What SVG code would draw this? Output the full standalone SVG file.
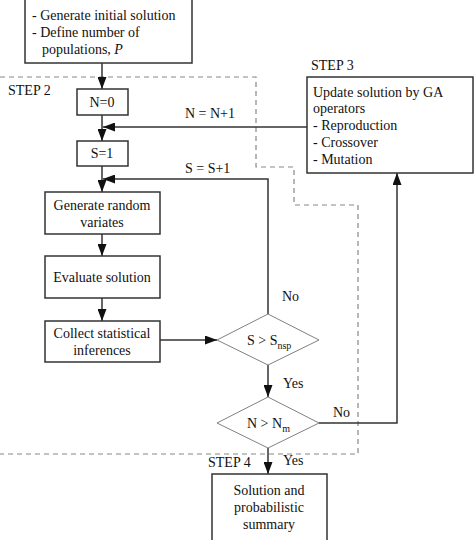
<svg xmlns="http://www.w3.org/2000/svg" width="474" height="540" viewBox="0 0 474 540">
<style>
.box{fill:#fff;stroke:#333;stroke-width:1.5}
.dia{fill:#fff;stroke:#808080;stroke-width:1}
.t{font-family:"Liberation Serif","Times New Roman",serif;font-size:14px;fill:#111}
.c{text-anchor:middle}
.con{fill:none;stroke:#333;stroke-width:1.5}
.dash{fill:none;stroke:#888;stroke-width:1.2;stroke-dasharray:5,4}
</style>
<defs>
<marker id="ah" markerWidth="12" markerHeight="9" refX="12" refY="4.5" orient="auto" markerUnits="userSpaceOnUse">
<path d="M0,0 L12,4.5 L0,9 z" fill="#111"/>
</marker>
</defs>
<rect width="474" height="540" fill="#fff"/>
<path class="dash" d="M0,77 H256 V167 H294 V205 H358 V454 H0"/>
<g id="connectors">
<path class="con" d="M102,63 V89" marker-end="url(#ah)"/>
<path class="con" d="M102,115 V141" marker-end="url(#ah)"/>
<path class="con" d="M307,127 H103" marker-end="url(#ah)"/>
<path class="con" d="M102,166 V192" marker-end="url(#ah)"/>
<path class="con" d="M268,314 V179 H103" marker-end="url(#ah)"/>
<path class="con" d="M102,234 V256" marker-end="url(#ah)"/>
<path class="con" d="M102,298 V321" marker-end="url(#ah)"/>
<path class="con" d="M160,340 H217" marker-end="url(#ah)"/>
<path class="con" d="M268,365 V397" marker-end="url(#ah)"/>
<path class="con" d="M319,423 H397 V173" marker-end="url(#ah)"/>
<path class="con" d="M268,448 V474" marker-end="url(#ah)"/>
<text class="t" x="185" y="118">N = N+1</text>
<text class="t" x="185" y="173">S = S+1</text>
<text class="t" x="282" y="301">No</text>
<text class="t" x="283" y="388">Yes</text>
<text class="t" x="333" y="417">No</text>
<text class="t" x="283" y="465">Yes</text>
</g>
<text class="t" x="8" y="95">STEP 2</text>
<text class="t" x="311" y="70">STEP 3</text>
<text class="t" x="208" y="467">STEP 4</text>
<g id="init">
<rect class="box" x="25" y="-2" width="167" height="65"/>
<text class="t" x="32" y="20">- Generate initial solution</text>
<text class="t" x="32" y="37">- Define number of</text>
<text class="t" x="42" y="54">populations, <tspan font-style="italic">P</tspan></text>
</g>
<g id="n0">
<rect class="box" x="77" y="89" width="51" height="26"/>
<text class="t c" x="102" y="107">N=0</text>
</g>
<g id="s1">
<rect class="box" x="77" y="141" width="51" height="25"/>
<text class="t c" x="102" y="158">S=1</text>
</g>
<g id="genrand">
<rect class="box" x="45" y="192" width="115" height="42"/>
<text class="t c" x="102" y="210">Generate random</text>
<text class="t c" x="102" y="227">variates</text>
</g>
<g id="evaluate">
<rect class="box" x="45" y="256" width="115" height="42"/>
<text class="t c" x="102" y="282">Evaluate solution</text>
</g>
<g id="collect">
<rect class="box" x="45" y="321" width="115" height="41"/>
<text class="t c" x="102" y="338">Collect statistical</text>
<text class="t c" x="102" y="355">inferences</text>
</g>
<g id="d1">
<path class="dia" d="M217,340 L268,314 L319,340 L268,365 Z"/>
<text class="t" x="247" y="345">S &gt; S<tspan font-size="10" dy="4">nsp</tspan></text>
</g>
<g id="d2">
<path class="dia" d="M217,423 L268,397 L319,423 L268,448 Z"/>
<text class="t" x="247" y="428">N &gt; N<tspan font-size="10" dy="4">m</tspan></text>
</g>
<g id="ga">
<rect class="box" x="307" y="77" width="166" height="96"/>
<text class="t" x="313" y="97">Update solution by GA</text>
<text class="t" x="313" y="113">operators</text>
<text class="t" x="313" y="130">- Reproduction</text>
<text class="t" x="313" y="147">- Crossover</text>
<text class="t" x="313" y="164">- Mutation</text>
</g>
<g id="summary">
<rect class="box" x="212" y="474" width="115" height="70"/>
<text class="t c" x="269" y="495">Solution and</text>
<text class="t c" x="269" y="512">probabilistic</text>
<text class="t c" x="269" y="529">summary</text>
</g>
</svg>
